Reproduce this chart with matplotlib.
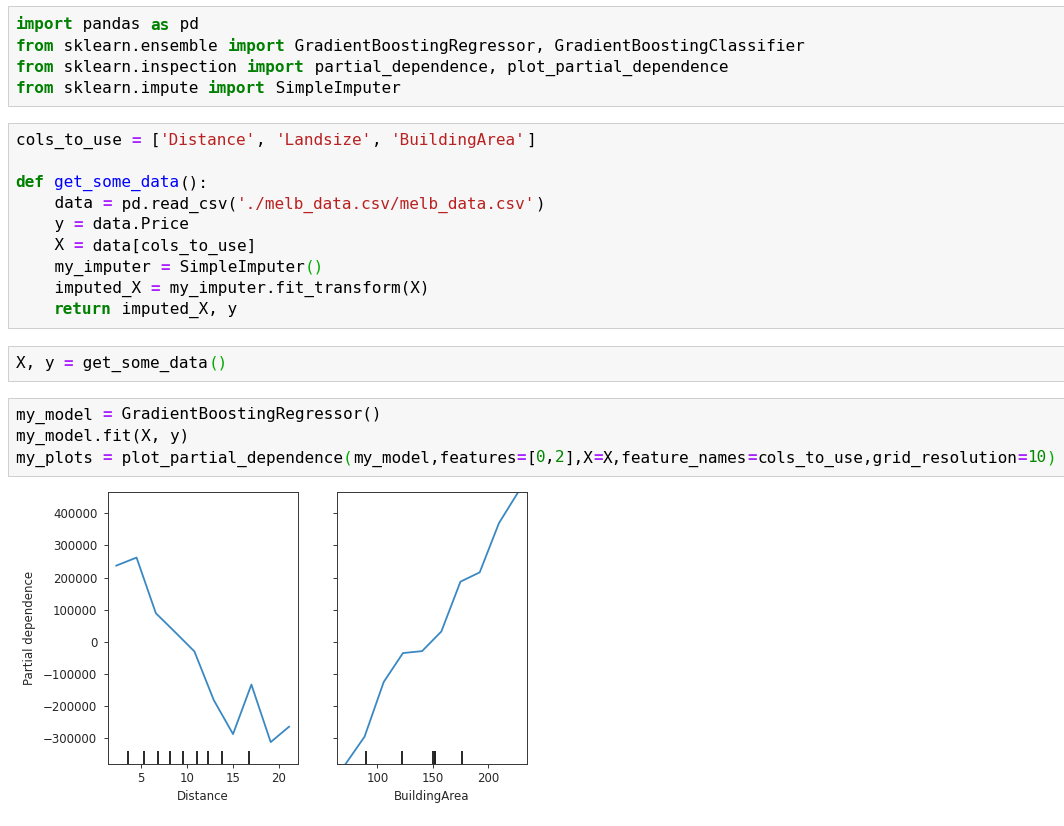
import matplotlib.pyplot as plt
from matplotlib.patches import Rectangle

# partial dependence values
distance_grid = [2.3, 4.5, 6.6, 8.7, 10.8, 12.9, 15.0, 17.0, 19.1, 21.1]
distance_pd = [237000, 262000, 89000, 30000, -30000, -181000, -287000, -133000, -312000, -264000]
distance_deciles = [3.56, 5.32, 6.81, 8.18, 9.55, 11.03, 12.25, 13.84, 16.69]

area_grid = [71, 88.4, 105.7, 123.1, 140.4, 157.8, 175.1, 192.5, 209.9, 227.2]
area_pd = [-381000, -295000, -125000, -35000, -29000, 32000, 187000, 216000, 369000, 465000]
area_deciles = [89.7, 122.2, 150.6, 151.97, 151.97, 176.5]

feature_names = ['Distance', 'BuildingArea']
y_ticks = [-300000, -200000, -100000, 0, 100000, 200000, 300000, 400000]

# code cells: (style, text) tokens per line
# n=plain k=keyword o=operator s=string f=def name m=number b=matched bracket
cell1 = [
    [('k', 'import'), ('n', ' pandas '), ('k', 'as'), ('n', ' pd')],
    [('k', 'from'), ('n', ' sklearn.ensemble '), ('k', 'import'),
     ('n', ' GradientBoostingRegressor, GradientBoostingClassifier')],
    [('k', 'from'), ('n', ' sklearn.inspection '), ('k', 'import'),
     ('n', ' partial_dependence, plot_partial_dependence')],
    [('k', 'from'), ('n', ' sklearn.impute '), ('k', 'import'), ('n', ' SimpleImputer')],
]
cell2 = [
    [('n', 'cols_to_use '), ('o', '='), ('n', ' ['), ('s', "'Distance'"), ('n', ', '),
     ('s', "'Landsize'"), ('n', ', '), ('s', "'BuildingArea'"), ('n', ']')],
    [],
    [('k', 'def'), ('n', ' '), ('f', 'get_some_data'), ('n', '():')],
    [('n', '    data '), ('o', '='), ('n', ' pd.read_csv('),
     ('s', "'./melb_data.csv/melb_data.csv'"), ('n', ')')],
    [('n', '    y '), ('o', '='), ('n', ' data.Price')],
    [('n', '    X '), ('o', '='), ('n', ' data[cols_to_use]')],
    [('n', '    my_imputer '), ('o', '='), ('n', ' SimpleImputer'), ('b', '()')],
    [('n', '    imputed_X '), ('o', '='), ('n', ' my_imputer.fit_transform(X)')],
    [('n', '    '), ('k', 'return'), ('n', ' imputed_X, y')],
]
cell3 = [
    [('n', 'X, y '), ('o', '='), ('n', ' get_some_data'), ('b', '()')],
]
cell4 = [
    [('n', 'my_model '), ('o', '='), ('n', ' GradientBoostingRegressor()')],
    [('n', 'my_model.fit(X, y)')],
    [('n', 'my_plots '), ('o', '='), ('n', ' plot_partial_dependence'), ('b', '('),
     ('n', 'my_model,features'), ('o', '='), ('n', '['), ('m', '0'), ('n', ','),
     ('m', '2'), ('n', '],X'), ('o', '='), ('n', 'X,feature_names'), ('o', '='),
     ('n', 'cols_to_use,grid_resolution'), ('o', '='), ('m', '10'), ('b', ')')],
]

styles = {
    'n': ('#000000', 'normal'),
    'k': ('#008000', 'bold'),
    'o': ('#aa22ff', 'bold'),
    's': ('#ba2121', 'normal'),
    'f': ('#0000ff', 'normal'),
    'm': ('#008800', 'normal'),
    'b': ('#00aa00', 'normal'),
}

# the inline plot in the screenshot is a bit enlarged (~1.18x)
plt.rcParams.update({
    'font.size': 11.8,
    'axes.linewidth': 0.95,
    'xtick.major.size': 4.1,
    'ytick.major.size': 4.1,
    'xtick.major.width': 0.95,
    'ytick.major.width': 0.95,
    'xtick.major.pad': 4.0,
    'ytick.major.pad': 6.3,
    'axes.edgecolor': '#333333',
    'xtick.color': '#333333',
    'ytick.color': '#333333',
    'xtick.labelcolor': '#262626',
    'ytick.labelcolor': '#262626',
})

W, H = 1064, 826
fig = plt.figure(figsize=(W / 72, H / 72), dpi=72)
fig.patch.set_facecolor('white')

bg = fig.add_axes([0, 0, 1, 1])
bg.set_xlim(0, W)
bg.set_ylim(H, 0)
bg.axis('off')

x0 = 15.7
cw = 9.63
# (box top, box bottom, first baseline, line step, lines)
cells = [
    (6, 106, 29.5, 21.1, cell1),
    (123.3, 328.3, 145.0, 21.1, cell2),
    (345.7, 381, 367.6, 21.1, cell3),
    (397.7, 475.7, 419.4, 21.55, cell4),
]
for top, bottom, base, step, lines in cells:
    bg.add_patch(Rectangle((8.3, top), 1200, bottom - top, facecolor='#f7f7f7',
                           edgecolor='#cfcfcf', lw=1))
    for i, line in enumerate(lines):
        col = 0
        for st, txt in line:
            color, weight = styles[st]
            bg.text(x0 + col * cw, base + i * step, txt, family='DejaVu Sans Mono',
                    fontsize=16, color=color, fontweight=weight, va='baseline', ha='left')
            col += len(txt)

# partial dependence plots
ylim = (min(distance_pd + area_pd), max(distance_pd + area_pd))

ax1 = fig.add_axes([107.7 / W, 1 - 764.3 / H, 190 / W, 272 / H])
ax2 = fig.add_axes([336.7 / W, 1 - 764.3 / H, 190 / W, 272 / H])

for ax, grid, pd_vals, deciles, name in [
        (ax1, distance_grid, distance_pd, distance_deciles, feature_names[0]),
        (ax2, area_grid, area_pd, area_deciles, feature_names[1])]:
    ax.plot(grid, pd_vals, color='#3a88c2', lw=1.8)
    ax.vlines(deciles, 0, 0.05, transform=ax.get_xaxis_transform(), color='#222222', lw=1.9)
    ax.set_ylim(ylim)
    ax.set_yticks(y_ticks)
    ax.set_xlabel(name, color='#262626', labelpad=5)

ax1.set_ylabel('Partial dependence', color='#262626', labelpad=7)
ax1.set_xticks([5, 10, 15, 20])
ax2.set_xticks([100, 150, 200])
ax2.tick_params(labelleft=False)

fig.savefig('out.png', dpi=72)
